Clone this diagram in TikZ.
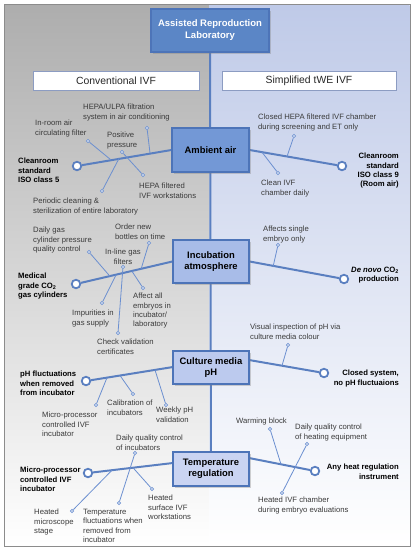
\documentclass[tikz,border=0pt]{standalone}
\usepackage{fontspec}
\setmainfont{Liberation Sans}
\usetikzlibrary{shadows}
\definecolor{lineblue}{HTML}{5A7FC0}
\definecolor{leadblue}{HTML}{6B8FD0}
\definecolor{topfill}{HTML}{5B86C6}
\definecolor{ambfill}{HTML}{7398D6}
\definecolor{incfill}{HTML}{A8BCE8}
\definecolor{culfill}{HTML}{BCCAEE}
\definecolor{tmpfill}{HTML}{CAD4F2}
\definecolor{boxedge}{HTML}{4D74B8}
\definecolor{txtgray}{HTML}{3A3A3A}
\definecolor{rtop}{HTML}{BFCAE8}
\definecolor{rmid}{HTML}{E4E9F5}
\definecolor{titleedge}{HTML}{8C9CC2}
\pgfdeclarelayer{back}
\pgfdeclarelayer{lines}
\pgfsetlayers{back,lines,main}
\tikzset{
  mainline/.style={draw=lineblue, line width=2pt},
  leader/.style={draw=leadblue, line width=0.8pt},
  endring/.style={circle, draw=lineblue, line width=1.8pt, fill=white, minimum size=8.5pt, inner sep=0pt},
  tipdot/.style={circle, draw=leadblue, line width=0.7pt, fill=white, minimum size=3.4pt, inner sep=0pt},
  lbl/.style={font=\fontsize{7.7}{9.3}\selectfont, text=txtgray, inner sep=0pt, align=left, anchor=north west},
  blbl/.style={font=\fontsize{7.7}{9.3}\selectfont\bfseries, text=black, inner sep=0pt, align=left, anchor=north west},
  rlbl/.style={blbl, align=right, anchor=north east},
  topic/.style={draw=boxedge, line width=1.3pt, font=\fontsize{9.4}{11.2}\selectfont\bfseries, align=center, inner sep=0pt, minimum width=76pt, drop shadow={shadow xshift=1.5pt, shadow yshift=-1.5pt, opacity=0.35}},
  titlebox/.style={draw=titleedge, line width=0.9pt, fill=white, font=\fontsize{10.4}{12}\selectfont, text=black!85, minimum width=166pt, minimum height=19pt, inner sep=0pt}
}
\begin{document}
\begin{tikzpicture}[x=1pt,y=-1pt]
\useasboundingbox (0,0) rectangle (417,550);
\begin{pgfonlayer}{back}
\fill[white] (0,0) rectangle (417,550);
\shade[top color=black!32, middle color=black!9, bottom color=white] (5,5) rectangle (209,545);
\shade[top color=rtop, middle color=rmid, bottom color=white] (209,5) rectangle (409.5,545);
\draw[black!45, line width=0.9pt] (4.5,4.5) rectangle (410,546);
\end{pgfonlayer}

% central boxes
\node[topic, fill=topfill, text=white, minimum width=118pt, minimum height=43pt, font=\fontsize{9.5}{12}\selectfont\bfseries] (lab) at (210,30.5) {Assisted Reproduction\\Laboratory};
\node[titlebox] (conv) at (116,80.5) {Conventional IVF};
\node[titlebox, minimum width=174pt] (simp) at (309,80.5) {Simplified tWE IVF};
\node[topic, fill=ambfill, minimum width=77pt, minimum height=44pt] (amb) at (210.5,150) {Ambient air};
\node[topic, fill=incfill, minimum height=43pt] (inc) at (211,261.5) {Incubation\\atmosphere};
\node[topic, fill=culfill, minimum height=33pt] (cul) at (211,367.5) {Culture media\\pH};
\node[topic, fill=tmpfill, minimum height=34pt] (tmp) at (211,469) {Temperature\\regulation};

% end rings
\node[endring] (ambL) at (77,166) {};
\node[endring] (ambR) at (342,166) {};
\node[endring] (incL) at (76,284) {};
\node[endring] (incR) at (344,279) {};
\node[endring] (culL) at (86,381) {};
\node[endring] (culR) at (324,373) {};
\node[endring] (tmpL) at (88,473) {};
\node[endring] (tmpR) at (315,471) {};

% box side points
\coordinate (culRo) at (249,360);
\coordinate (culLo) at (173,367);
\coordinate (tmpLo) at (173,463);
\coordinate (tmpRo) at (249,458);

% tips: ambient
\node[tipdot] (t1) at (147,128) {};
\node[tipdot] (t2) at (88,141) {};
\node[tipdot] (t3) at (122,152) {};
\node[tipdot] (t4) at (143,175) {};
\node[tipdot] (t5) at (102,191) {};
\node[tipdot] (t6) at (294,136) {};
\node[tipdot] (t7) at (278,173) {};
% tips: incubation
\node[tipdot] (t8) at (89,252) {};
\node[tipdot] (t9) at (102,303) {};
\node[tipdot] (t10) at (123,267) {};
\node[tipdot] (t11) at (118,333) {};
\node[tipdot] (t12) at (143,288) {};
\node[tipdot] (t13) at (149,243) {};
\node[tipdot] (t14) at (278,245) {};
% tips: culture
\node[tipdot] (t15) at (96,405) {};
\node[tipdot] (t16) at (133,394) {};
\node[tipdot] (t17) at (166,405) {};
\node[tipdot] (t18) at (288,345) {};
% tips: temperature
\node[tipdot] (t19) at (135,453) {};
\node[tipdot] (t20) at (119,503) {};
\node[tipdot] (t21) at (72,511) {};
\node[tipdot] (t22) at (152,489) {};
\node[tipdot] (t23) at (270,429) {};
\node[tipdot] (t24) at (307,444) {};
\node[tipdot] (t25) at (282,493) {};

% points on main lines
\coordinate (a1) at (150,152.9);
\coordinate (a2) at (111,159.9);
\coordinate (a3) at (126.7,157.1);
\coordinate (a5) at (119,158.5);
\coordinate (a6) at (287,156.5);
\coordinate (a7) at (262,152.2);
\coordinate (b8) at (110,276.3);
\coordinate (b9) at (116,274.9);
\coordinate (b10) at (122.5,273.4);
\coordinate (b12) at (132,271.3);
\coordinate (b13) at (141,269.3);
\coordinate (b14) at (273,267);
\coordinate (c15) at (107,377.6);
\coordinate (c16) at (120,375.5);
\coordinate (c17) at (155,369.9);
\coordinate (c18) at (282,365.7);
\coordinate (d19) at (130.2,468);
\coordinate (d21) at (112,470.2);
\coordinate (d22) at (133,467.7);
\coordinate (d23) at (281,464.3);
\coordinate (d24) at (295.2,467.1);

\begin{pgfonlayer}{lines}
\draw[mainline] (lab.south) -- (tmp.north);
\draw[mainline] (ambL) -- (amb.west);
\draw[mainline] (amb.east) -- (ambR);
\draw[mainline] (incL) -- (inc.west);
\draw[mainline] (inc.east) -- (incR);
\draw[mainline] (culL) -- (culLo);
\draw[mainline] (culRo) -- (culR);
\draw[mainline] (tmpL) -- (tmpLo);
\draw[mainline] (tmpRo) -- (tmpR);
\draw[leader] (t1) -- (a1);
\draw[leader] (t2) -- (a2);
\draw[leader] (t3) -- (a3);
\draw[leader] (t4) -- (a3);
\draw[leader] (t5) -- (a5);
\draw[leader] (t6) -- (a6);
\draw[leader] (t7) -- (a7);
\draw[leader] (t8) -- (b8);
\draw[leader] (t9) -- (b9);
\draw[leader] (t10) -- (b10);
\draw[leader] (t11) -- (b10);
\draw[leader] (t12) -- (b12);
\draw[leader] (t13) -- (b13);
\draw[leader] (t14) -- (b14);
\draw[leader] (t15) -- (c15);
\draw[leader] (t16) -- (c16);
\draw[leader] (t17) -- (c17);
\draw[leader] (t18) -- (c18);
\draw[leader] (t19) -- (d19);
\draw[leader] (t20) -- (d19);
\draw[leader] (t21) -- (d21);
\draw[leader] (t22) -- (d22);
\draw[leader] (t23) -- (d23);
\draw[leader] (t24) -- (d24);
\draw[leader] (t25) -- (d24);
\end{pgfonlayer}

% labels: ambient air
\node[lbl] (l1) at (83,104) {HEPA/ULPA filtration\\system in air conditioning};
\node[lbl] (l2) at (35,120) {In-room air\\circulating filter};
\node[lbl] (l3) at (107,132) {Positive\\pressure};
\node[lbl] (l4) at (139,183) {HEPA filtered\\IVF workstations};
\node[lbl] (l5) at (33,198) {Periodic cleaning \&\\sterilization of entire laboratory};
\node[blbl] (l6) at (18,158) {Cleanroom\\standard\\ISO class 5};
\node[lbl] (l7) at (258,114) {Closed HEPA filtered IVF chamber\\during screening and ET only};
\node[lbl] (l8) at (261,180) {Clean IVF\\chamber daily};
\node[rlbl] (l9) at (399,153) {Cleanroom\\standard\\ISO class 9\\(Room air)};
% labels: incubation
\node[lbl] (l10) at (33,227) {Daily gas\\cylinder pressure\\quality control};
\node[lbl] (l11) at (115,224) {Order new\\bottles on time};
\node[lbl, align=center, anchor=north] (l12) at (123,249) {In-line gas\\filters};
\node[blbl] (l13) at (18,273) {Medical\\grade CO\textsubscript{2}\\gas cylinders};
\node[lbl] (l14) at (133,293) {Affect all\\embryos in\\incubator/\\laboratory};
\node[lbl] (l15) at (72,310) {Impurities in\\gas supply};
\node[lbl] (l16) at (97,339) {Check validation\\certificates};
\node[lbl] (l17) at (263,226) {Affects single\\embryo only};
\node[rlbl] (l18) at (399,267) {\textit{De novo} CO\textsubscript{2}\\production};
% labels: culture media
\node[blbl] (l19) at (20,371) {pH fluctuations\\when removed\\from incubator};
\node[lbl] (l20) at (42,412) {Micro-processor\\controlled IVF\\incubator};
\node[lbl] (l21) at (107,400) {Calibration of\\incubators};
\node[lbl] (l22) at (156,407) {Weekly pH\\validation};
\node[lbl] (l23) at (250,324) {Visual inspection of pH via\\culture media colour};
\node[rlbl] (l24) at (399,370) {Closed system,\\no pH fluctuaions};
% labels: temperature
\node[blbl] (l25) at (20,467) {Micro-processor\\controlled IVF\\incubator};
\node[lbl] (l26) at (116,435) {Daily quality control\\of incubators};
\node[lbl] (l27) at (34,509) {Heated\\microscope\\stage};
\node[lbl] (l28) at (83,509) {Temperature\\fluctuations when\\removed from\\incubator};
\node[lbl] (l29) at (148,495) {Heated\\surface IVF\\workstations};
\node[lbl] (l30) at (236,418) {Warming block};
\node[lbl] (l31) at (295,424) {Daily quality control\\of heating equipment};
\node[lbl] (l32) at (258,497) {Heated IVF chamber\\during embryo evaluations};
\node[rlbl] (l33) at (399,464) {Any heat regulation\\instrument};
\end{tikzpicture}
\end{document}
